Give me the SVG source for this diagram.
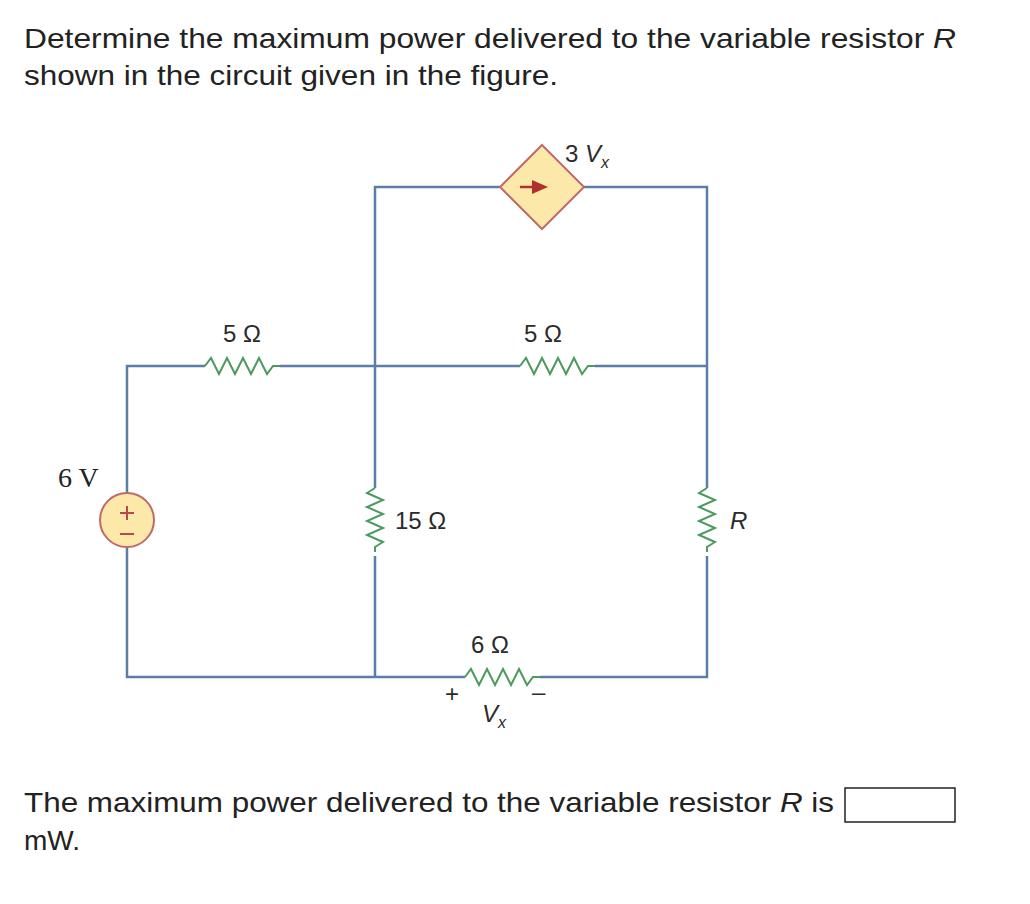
<svg xmlns="http://www.w3.org/2000/svg" width="1030" height="904" viewBox="0 0 1030 904">
<style>
.w{stroke:#5a7ea6;stroke-width:2.5;fill:none}
.r{stroke:#4c9a5e;stroke-width:2;fill:none}
.t{font-family:"Liberation Sans",Arial,sans-serif;fill:#2b2b2b}
.q{font-family:"Liberation Sans",Arial,sans-serif;font-size:28px;fill:#222}
.s{font-family:"Liberation Serif",serif;fill:#222}
</style>
<rect width="1030" height="904" fill="#fff"/>
<text class="q" x="24" y="48" textLength="932" lengthAdjust="spacingAndGlyphs">Determine the maximum power delivered to the variable resistor <tspan font-style="italic">R</tspan></text>
<text class="q" x="24" y="85" textLength="534" lengthAdjust="spacingAndGlyphs">shown in the circuit given in the figure.</text>
<g id="wires">
<path class="w" d="M375 366V187H500M584 187H707V366M127 493V366H205M280 366H520M595 366H707V488M707 556V677H540M465 677H127V547M375 366V488M375 556V677"/>
</g>
<g id="R5a"><path class="r" d="M205 366l6 -8l8 16l8 -16l8 16l8 -16l8 16l8 -16l8 16l6 -8h7"/><text class="t" x="223" y="342" font-size="24">5 Ω</text></g>
<g id="R5b"><path class="r" d="M520 366l6 -8l8 16l8 -16l8 16l8 -16l8 16l8 -16l8 16l6 -8h7"/><text class="t" x="524" y="342" font-size="24">5 Ω</text></g>
<g id="R6"><path class="r" d="M465 677l6 -8l8 16l8 -16l8 16l8 -16l8 16l8 -16l8 16l6 -8h7"/><text class="t" x="471" y="653" font-size="24">6 Ω</text>
<text class="t" x="445" y="702" font-size="24">+</text><text class="t" x="482" y="722" font-size="24" font-style="italic">V<tspan font-size="16" dy="6">x</tspan></text><text class="t" x="532" y="700" font-size="24">–</text></g>
<g id="R15"><path class="r" d="M375 488l-8 5l16 7l-16 7l16 7l-16 7l16 7l-16 7l16 7l-8 5v5"/><text class="t" x="395" y="529" font-size="24">15 Ω</text></g>
<g id="RL"><path class="r" d="M707 488l-8 5l16 7l-16 7l16 7l-16 7l16 7l-16 7l16 7l-8 5v5"/><text class="t" x="730" y="529" font-size="24" font-style="italic">R</text></g>
<g id="V6"><circle cx="127" cy="520" r="27" fill="#fce8a8" stroke="#c06a6a" stroke-width="2"/><path d="M127 506v14M120 513h14M120 534h14" stroke="#b94848" stroke-width="2"/><text class="s" x="58" y="487" font-size="28">6 V</text></g>
<g id="I3"><path d="M542 145L584 187L542 229L500 187Z" fill="#fce8a8" stroke="#c06a6a" stroke-width="2"/><path d="M520 187h16" stroke="#b03030" stroke-width="2.5"/><path d="M532 180l16 7l-16 7z" fill="#b03030"/><text class="t" x="565" y="162" font-size="24">3 <tspan font-style="italic">V</tspan><tspan font-size="16" dy="6" font-style="italic">x</tspan></text></g>
<text class="q" x="24" y="812" textLength="810" lengthAdjust="spacingAndGlyphs">The maximum power delivered to the variable resistor <tspan font-style="italic">R</tspan> is</text>
<rect x="845" y="788" width="110" height="34" fill="#fff" stroke="#222" stroke-width="1.5"/>
<text class="q" x="24" y="850">mW.</text>
</svg>
